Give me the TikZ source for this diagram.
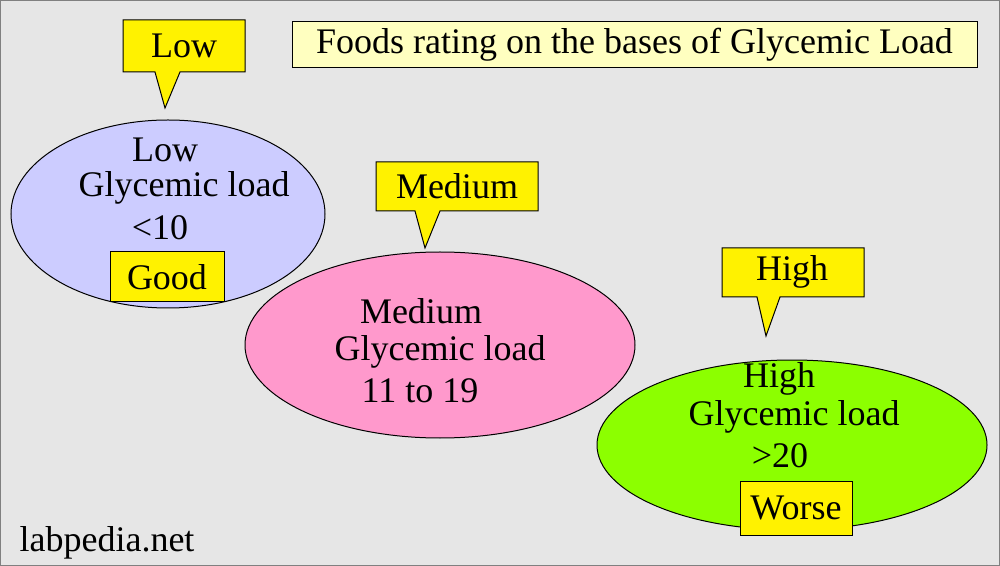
\documentclass[tikz,border=0pt]{standalone}
\usepackage{fontspec}
\setmainfont{Liberation Serif}
\usetikzlibrary{shapes.geometric}
\begin{document}
\begin{tikzpicture}[x=0.5pt,y=-0.5pt,
  lbl/.style={font=\fontsize{18}{20}\selectfont,inner sep=0pt},
  ell/.style={draw=black,line width=0.5pt},
  ybox/.style={draw=black,fill=yellow,line width=0.5pt,inner sep=0pt}]
\definecolor{bg}{HTML}{E6E6E6}
\definecolor{lowc}{HTML}{CCCCFF}
\definecolor{medc}{HTML}{FF99CC}
\definecolor{highc}{HTML}{8CFF00}
\definecolor{ttl}{HTML}{FFFFC0}
\useasboundingbox (0,0) rectangle (1000,566);
\fill[bg] (0,0) rectangle (1000,566);
\draw[line width=0.5pt,draw=gray] (0.5,0.5) rectangle (999.5,565.5);
% title
\node[draw=black,fill=ttl,line width=0.5pt,minimum width=342.5pt,minimum height=23pt,lbl] (title) at (634.5,45) {Foods rating on the bases of Glycemic Load};
% ellipses
\node[ell,fill=lowc,ellipse,inner sep=0pt,minimum width=157pt,minimum height=94pt] (elow) at (168,214) {};
\node[ell,fill=medc,ellipse,inner sep=0pt,minimum width=195pt,minimum height=93pt] (emed) at (440,345) {};
\node[ell,fill=highc,ellipse,inner sep=0pt,minimum width=195pt,minimum height=85pt] (ehigh) at (792,445) {};
% callouts
\draw[ybox] (123,20) -- (245,20) -- (245,72) -- (180,72) -- (165,108) -- (155,72) -- (123,72) -- cycle;
\node[lbl] (clow) at (184,46) {Low};
\draw[ybox] (376,162) -- (538,162) -- (538,211) -- (440,211) -- (425,248) -- (415,211) -- (376,211) -- cycle;
\node[lbl] (cmed) at (457,186) {Medium};
\draw[ybox] (722,248) -- (864,248) -- (864,297) -- (780,297) -- (766,336) -- (757,297) -- (722,297) -- cycle;
\node[lbl] (chigh) at (792,272) {High};
% ellipse texts
\node[lbl] (t1) at (165,150) {Low};
\node[lbl] (t2) at (184,188) {Glycemic load};
\node[lbl] (t3) at (160,228) {<10};
\node[ybox,minimum width=57pt,minimum height=25pt,lbl] (good) at (167,277) {Good};
\node[lbl] (m1) at (421,311) {Medium};
\node[lbl] (m2) at (440,352) {Glycemic load};
\node[lbl] (m3) at (420,391) {11 to 19};
\node[lbl] (h1) at (779,379) {High};
\node[lbl] (h2) at (794,417) {Glycemic load};
\node[lbl] (h3) at (780,456) {>20};
\node[ybox,minimum width=56pt,minimum height=27pt,lbl] (worse) at (796,508) {Worse};
\node[font=\fontsize{18}{20}\selectfont,inner sep=0pt] (site) at (107,543) {labpedia.net};
\end{tikzpicture}
\end{document}
